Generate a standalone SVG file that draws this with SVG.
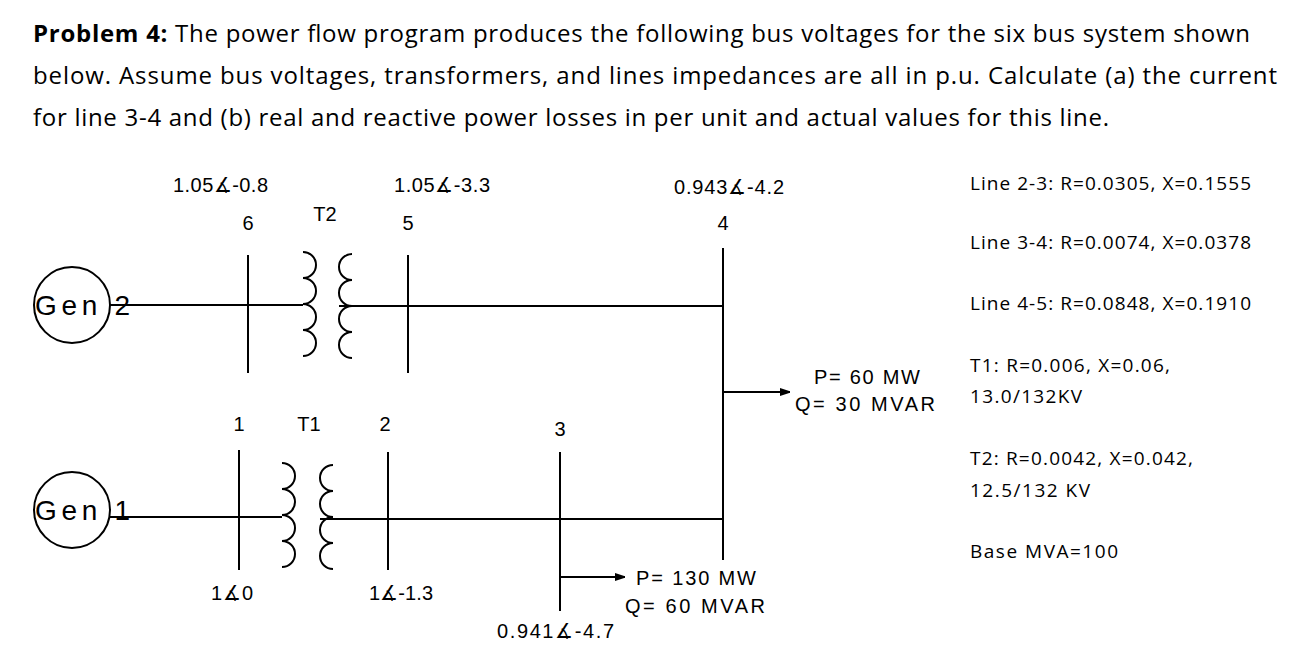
<svg xmlns="http://www.w3.org/2000/svg" width="1292" height="662" viewBox="0 0 1292 662">
<style>
.l{stroke:#000;stroke-width:2;fill:none}
.t{font-family:"Liberation Sans",Arial,sans-serif;font-size:20px;fill:#000}
.g{font-family:"Liberation Sans",Arial,sans-serif;font-size:28px;fill:#000}
.h{font-family:"Open Sans","Liberation Sans",sans-serif;font-size:24px;fill:#000}
.s{font-family:"Open Sans","Liberation Sans",sans-serif;font-size:19px;fill:#000}
</style>
<defs><marker id="a" markerWidth="10" markerHeight="8" refX="10" refY="4" orient="auto" markerUnits="userSpaceOnUse"><path d="M0,0L12,4L0,8z" fill="#000"/></marker></defs>
<rect width="1292" height="662" fill="#fff"/>
<text class="h" x="33" y="42" textLength="1217"><tspan font-weight="bold">Problem 4:</tspan> The power flow program produces the following bus voltages for the six bus system shown</text>
<text class="h" x="33" y="84" textLength="1244">below.  Assume bus voltages, transformers, and lines impedances are all in p.u.  Calculate (a) the current</text>
<text class="h" x="33" y="126" textLength="1076">for line 3-4 and (b) real and reactive power losses in per unit and actual values for this line.</text>
<g id="gen2"><circle class="l" cx="72" cy="305" r="38"/><text class="g" x="35" y="315" textLength="95">Gen 2</text></g>
<g id="gen1"><circle class="l" cx="72" cy="510" r="38"/><text class="g" x="35" y="520" textLength="95">Gen 1</text></g>
<g id="bus6"><line class="l" x1="248" y1="255" x2="248" y2="373"/><text class="t" x="248" y="230" text-anchor="middle">6</text><text class="t" x="173" y="192" textLength="95">1.05∡-0.8</text></g>
<g id="T2"><path class="l" d="M303,252a13,13 0 0 1 0,26a13,13 0 0 1 0,26a13,13 0 0 1 0,26a13,13 0 0 1 0,26"/><path class="l" d="M352,254a13,13 0 0 0 0,26a13,13 0 0 0 0,26a13,13 0 0 0 0,26a13,13 0 0 0 0,26"/><text class="t" x="325" y="221" text-anchor="middle">T2</text></g>
<g id="bus5"><line class="l" x1="408" y1="255" x2="408" y2="373"/><text class="t" x="408" y="230" text-anchor="middle">5</text><text class="t" x="394" y="192" textLength="96">1.05∡-3.3</text></g>
<g id="bus4"><line class="l" x1="723" y1="248" x2="723" y2="560"/><text class="t" x="723" y="230" text-anchor="middle">4</text><text class="t" x="674" y="194" textLength="110">0.943∡-4.2</text></g>
<g id="bus1"><line class="l" x1="239" y1="450" x2="239" y2="570"/><text class="t" x="239" y="431" text-anchor="middle">1</text><text class="t" x="211" y="600" textLength="42">1∡0</text></g>
<g id="T1"><path class="l" d="M282,463a13,13 0 0 1 0,26a13,13 0 0 1 0,26a13,13 0 0 1 0,26a13,13 0 0 1 0,26"/><path class="l" d="M333,465a13,13 0 0 0 0,26a13,13 0 0 0 0,26a13,13 0 0 0 0,26a13,13 0 0 0 0,26"/><text class="t" x="309" y="431" text-anchor="middle">T1</text></g>
<g id="bus2"><line class="l" x1="388" y1="452" x2="388" y2="570"/><text class="t" x="385" y="431" text-anchor="middle">2</text><text class="t" x="369" y="600" textLength="64">1∡-1.3</text></g>
<g id="bus3"><line class="l" x1="560" y1="452" x2="560" y2="611"/><text class="t" x="560" y="436" text-anchor="middle">3</text><text class="t" x="497" y="638" textLength="117">0.941∡-4.7</text></g>
<g id="connectors">
<line class="l" x1="110" y1="305" x2="303" y2="305"/>
<line class="l" x1="339" y1="306" x2="723" y2="306"/>
<line class="l" x1="110" y1="517" x2="282" y2="517"/>
<line class="l" x1="320" y1="519" x2="723" y2="519"/>
<line class="l" x1="723" y1="392" x2="790" y2="392" marker-end="url(#a)"/>
<line class="l" x1="560" y1="577" x2="625" y2="577" marker-end="url(#a)"/>
</g>
<g id="loads">
<text class="t" x="814" y="384" textLength="106">P= 60 MW</text>
<text class="t" x="795" y="411" textLength="140">Q= 30 MVAR</text>
<text class="t" x="636" y="585" textLength="120">P= 130 MW</text>
<text class="t" x="625" y="613" textLength="140">Q= 60 MVAR</text>
</g>
<g id="params">
<text class="s" x="970" y="190" textLength="281">Line 2-3: R=0.0305, X=0.1555</text>
<text class="s" x="970" y="249" textLength="281">Line 3-4: R=0.0074, X=0.0378</text>
<text class="s" x="970" y="310" textLength="281">Line 4-5: R=0.0848, X=0.1910</text>
<text class="s" x="970" y="372" textLength="200">T1: R=0.006, X=0.06,</text>
<text class="s" x="970" y="403" textLength="112">13.0/132KV</text>
<text class="s" x="970" y="465" textLength="223">T2: R=0.0042, X=0.042,</text>
<text class="s" x="970" y="497" textLength="120">12.5/132 KV</text>
<text class="s" x="970" y="558" textLength="148">Base MVA=100</text>
</g>
</svg>
